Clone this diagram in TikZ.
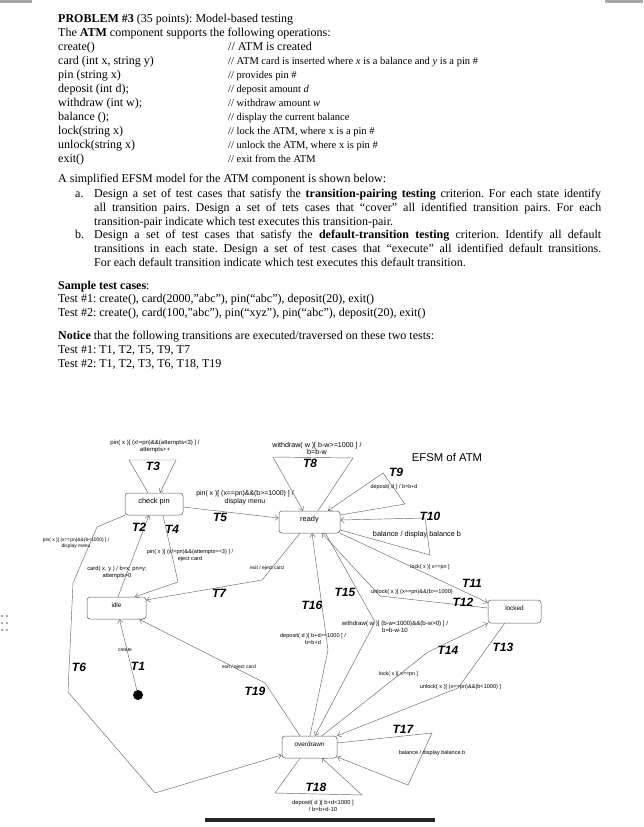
\documentclass[tikz,border=0pt]{standalone}
\usepackage{fontspec}
\setmainfont{Liberation Serif}
\newfontfamily\cmtfont{Liberation Serif}
\newfontfamily\diagfont{Liberation Sans}
\usetikzlibrary{arrows.meta}
\frenchspacing

\newcommand{\jline}[1]{\makebox[507pt][s]{#1}}

\begin{document}
\begin{tikzpicture}[x=1pt,y=-1pt,
	txt/.style={anchor=base west,inner sep=0pt,font=\fontsize{12}{14}\selectfont},
	cmt/.style={anchor=base west,inner sep=0pt,font=\cmtfont\fontsize{10.5}{12}\selectfont},
	state/.style={draw=black!65,line width=0.5pt,rounded corners=3pt,minimum height=22pt,
		inner sep=0pt,text depth=6pt,font=\diagfont\fontsize{6.4}{7}\selectfont},
	bigstate/.style={state,font=\diagfont\fontsize{7.4}{8}\selectfont},
	lbl/.style={inner sep=0pt,align=center,font=\diagfont\fontsize{5.6}{7}\selectfont},
	biglbl/.style={lbl,font=\diagfont\fontsize{7.1}{7.5}\selectfont},
	hand/.style={inner sep=0pt,font=\diagfont\bfseries\itshape\fontsize{12}{12}\selectfont},
	tr/.style={draw=black!60,line width=0.45pt,-{Straight Barb[length=3.5pt,width=5.5pt]}}]
			\useasboundingbox (0,0) rectangle (643,827);
			\fill[black!35] (0,0) rectangle (32,3);
			\fill[black!35] (605,0) rectangle (643,3);
			\fill[black!45] (2,616) circle [radius=1.2pt];
			\fill[black!45] (7,616) circle [radius=1.2pt];
			\fill[black!45] (2,623) circle [radius=1.2pt];
			\fill[black!45] (7,623) circle [radius=1.2pt];
			\fill[black!45] (2,630) circle [radius=1.2pt];
			\fill[black!45] (7,630) circle [radius=1.2pt];
			\fill[black!85] (205,818) rectangle (435,822);
			\node[txt] (head) at (58,22) {\textbf{PROBLEM \#3} (35 points): Model-based testing};
			\node[txt] (intro) at (58,36) {The \textbf{ATM} component supports the following operations:};
			\node[txt] (op1) at (58,50) {create()};
			\node[txt] (op2) at (58,64) {card (int x, string y)};
			\node[txt] (op3) at (58,78) {pin (string x)};
			\node[txt] (op4) at (58,92) {deposit (int d);};
			\node[txt] (op5) at (58,106) {withdraw (int w);};
			\node[txt] (op6) at (58,120) {balance ();};
			\node[txt] (op7) at (58,134) {lock(string x)};
			\node[txt] (op8) at (58,148) {unlock(string x)};
			\node[txt] (op9) at (58,162) {exit()};
			\node[txt] (c1) at (228,50) {// ATM is created};
			\node[cmt] (c2) at (228,64) {// ATM card is inserted where \textit{x} is a balance and \textit{y} is a pin \#};
			\node[cmt] (c3) at (228,78) {// provides pin \#};
			\node[cmt] (c4) at (228,92) {// deposit amount \textit{d}};
			\node[cmt] (c5) at (228,106) {// withdraw amount \textit{w}};
			\node[cmt] (c6) at (228,120) {// display the current balance};
			\node[cmt] (c7) at (228,134) {// lock the ATM, where x is a pin \#};
			\node[cmt] (c8) at (228,148) {// unlock the ATM, where x is pin \#};
			\node[cmt] (c9) at (228,162) {// exit from the ATM};
			\node[txt] (model) at (58,182) {A simplified EFSM model for the ATM component is shown below:};
			\node[txt] (ia) at (75,197) {a.};
			\node[txt] (ia1) at (94,197) {\jline{Design a set of test cases that satisfy the \textbf{transition-pairing testing} criterion. For each state identify}};
			\node[txt] (ia2) at (94,211) {\jline{all transition pairs. Design a set of tets cases that “cover” all identified transition pairs. For each}};
			\node[txt] (ia3) at (94,225) {transition-pair indicate which test executes this transition-pair.};
			\node[txt] (ib) at (75,238) {b.};
			\node[txt] (ib1) at (94,238) {\jline{Design a set of test cases that satisfy the \textbf{default-transition testing} criterion. Identify all default}};
			\node[txt] (ib2) at (94,252) {\jline{transitions in each state. Design a set of test cases that “execute” all identified default transitions.}};
			\node[txt] (ib3) at (94,266) {For each default transition indicate which test executes this default transition.};
			\node[txt] (sample) at (58,289) {\textbf{Sample test cases}:};
			\node[txt] (test1) at (58,302) {Test \#1: create(), card(2000,”abc”), pin(“abc”), deposit(20), exit()};
			\node[txt] (test2) at (58,316) {Test \#2: create(), card(100,”abc”), pin(“xyz”), pin(“abc”), deposit(20), exit()};
			\node[txt] (notice) at (58,339) {\textbf{Notice} that the following transitions are executed/traversed on these two tests:};
			\node[txt] (run1) at (58,353) {Test \#1: T1, T2, T5, T9, T7};
			\node[txt] (run2) at (58,367) {Test \#2: T1, T2, T3, T6, T18, T19};
			\node[font=\diagfont\fontsize{11.3}{12}\selectfont,inner sep=0pt] (title) at (447,457) {EFSM of ATM};
			\node[bigstate,minimum width=58pt] (checkpin) at (154,504) {check pin};
			\node[bigstate,minimum width=61pt] (ready) at (309.5,522) {ready};
			\node[state,minimum width=59pt] (idle) at (116.5,608) {idle};
			\node[state,minimum width=53pt,minimum height=23pt] (locked) at (514.5,611.5) {locked};
			\node[state,minimum width=55pt] (overdrawn) at (309.5,747) {overdrawn};
			\node[circle,fill=black,inner sep=0pt,minimum size=10pt] (init) at (138,695) {};
			\coordinate (t3a) at (129,460);
			\coordinate (t3b) at (176,460);
			\coordinate (t8a) at (353,458);
			\coordinate (t8b) at (273,457);
			\coordinate (t9a) at (405,504);
			\coordinate (t9b) at (383,473);
			\coordinate (t10a) at (430,555);
			\coordinate (t10b) at (425,518);
			\coordinate (t12a) at (380,596);
			\coordinate (t15a) at (375,622);
			\coordinate (t16a) at (328,650);
			\coordinate (t7a) at (262,580);
			\coordinate (t14a) at (428,652);
			\coordinate (t13a) at (458,688);
			\coordinate (t19a) at (265,683);
			\coordinate (t17a) at (432,733);
			\coordinate (t17b) at (408,785);
			\coordinate (t18a) at (275,793);
			\coordinate (t18b) at (362,795);
			\coordinate (t6a) at (97,527);
			\coordinate (t6b) at (73,583);
			\coordinate (t6c) at (68,692);
			\coordinate (t6d) at (155,793);
			\coordinate (t4a) at (178,582);
			\draw[tr] (init) -- ([xshift=3pt]idle.south);
			\draw[tr] ([xshift=1.5pt]idle.north) -- ([xshift=-5pt]checkpin.south);
			\draw[tr] ([xshift=-6pt]checkpin.north) -- (t3a) -- (t3b) -- ([xshift=6pt]checkpin.north);
			\draw[tr] ([xshift=9pt]checkpin.south) -- (t4a) -- ([xshift=18.5pt]idle.north);
			\draw[tr] ([yshift=-3pt]checkpin.east) -- ([yshift=4pt]ready.west);
			\draw[tr] (checkpin.south west) -- (t6a) -- (t6b) -- (t6c) -- (t6d) -- ([yshift=-8pt]overdrawn.west);
			\draw[tr] ([xshift=-9.5pt]ready.south) -- (t7a) -- ([yshift=8pt]idle.east);
			\draw[tr] ([xshift=8.5pt]ready.north) -- (t8a) -- (t8b) -- ([xshift=-6.5pt]ready.north);
			\draw[tr] ([yshift=7pt]ready.east) -- (t9a) -- (t9b) -- ([xshift=18.5pt]ready.north);
			\draw[tr] ([yshift=-8pt]ready.east) -- (t10a) -- (t10b) -- ([yshift=2pt]ready.east);
			\draw[tr] (ready.south east) -- ([yshift=-3pt]locked.north west);
			\draw[tr] ([yshift=3.5pt]locked.west) -- (t12a) -- ([xshift=12.5pt]ready.south);
			\draw[tr] ([xshift=17pt]locked.south west) -- (t13a) -- (overdrawn.north east);
			\draw[tr] ([xshift=12.5pt]overdrawn.north) -- (t14a) -- (locked.south west);
			\draw[tr] ([xshift=16pt]ready.south) -- (t15a) -- ([xshift=5.5pt]overdrawn.north);
			\draw[tr] ([xshift=0.5pt]overdrawn.north) -- (t16a) -- ([xshift=2.5pt]ready.south);
			\draw[tr] ([yshift=4pt]overdrawn.east) -- (t17a) -- (t17b) -- ([yshift=-10pt]overdrawn.east);
			\draw[tr] ([xshift=-9.5pt]overdrawn.south) -- (t18a) -- (t18b) -- ([xshift=12.5pt]overdrawn.south);
			\draw[tr] ([xshift=-9.5pt]overdrawn.north) -- (t19a) -- ([xshift=-7pt]idle.south east);
			\node[lbl,font=\diagfont\fontsize{5}{7}\selectfont] (l1) at (125,650) {create};
			\node[lbl,font=\diagfont\fontsize{5.8}{7}\selectfont] (l2) at (117,572.5) {card( x, y ) / b=x; pn=y;\\attempts=0};
			\node[lbl,font=\diagfont\fontsize{6}{7}\selectfont] (l3) at (155,446.5) {pin( x )[ (x!=pn)\&\&(attempts<3) ] /\\attempts++};
			\node[lbl] (l4) at (190,555.5) {pin( x )[ (x!=pn)\&\&(attempts==3) ] /\\eject card};
			\node[biglbl,font=\diagfont\fontsize{6.9}{7.5}\selectfont] (l5) at (245,497.5) {pin( x )[ (x==pn)\&\&(b>=1000) ] /\\display menu};
			\node[lbl,font=\diagfont\fontsize{4.9}{6}\selectfont] (l6) at (76,543) {pin( x )[ (x==pn)\&\&(b<1000) ] /\\display menu};
			\node[lbl,font=\diagfont\fontsize{5}{7}\selectfont] (l7) at (267,568.5) {exit / eject card};
			\node[biglbl] (l8) at (317,448.5) {withdraw( w )[ b-w>=1000 ] /\\b=b-w};
			\node[lbl,font=\diagfont\fontsize{5.4}{6}\selectfont] (l9) at (394,487) {deposit( d ) / b=b+d};
			\node[biglbl,font=\diagfont\fontsize{7.3}{7.5}\selectfont] (l10) at (417,535) {balance / display balance b};
			\node[lbl,font=\diagfont\fontsize{5.3}{7}\selectfont] (l11) at (430,567.5) {lock( x )[ x==pn ]};
			\node[lbl] (l12) at (412,592) {unlock( x )[ (x==pn)\&\&(b>=1000)};
			\node[lbl] (l13) at (460.5,687) {unlock( x )[ (x==pn)\&\&(b<1000) ]};
			\node[lbl,font=\diagfont\fontsize{5.3}{7}\selectfont] (l14) at (398.5,674) {lock( x )[ x==pn ]};
			\node[lbl,font=\diagfont\fontsize{6.1}{7}\selectfont] (l15) at (395,626.5) {withdraw( w )[ (b-w<1000)\&\&(b-w>0) ] /\\b=b-w-10};
			\node[lbl] (l16) at (313,638.5) {deposit( d )[ b+d>=1000 ] /\\b=b+d};
			\node[lbl,font=\diagfont\fontsize{5.5}{7}\selectfont] (l17) at (432,753) {balance / display balance b};
			\node[lbl,font=\diagfont\fontsize{5.8}{7}\selectfont] (l18) at (323,805.5) {deposit( d )[ b+d<1000 ]\\/ b=b+d-10};
			\node[lbl,font=\diagfont\fontsize{5}{7}\selectfont] (l19) at (239,667) {exit / eject card};
			\node[hand] (n1) at (138,666) {T1};
			\node[hand] (n2) at (139,527) {T2};
			\node[hand] (n3) at (153,466) {T3};
			\node[hand] (n4) at (172,529) {T4};
			\node[hand] (n5) at (220,517) {T5};
			\node[hand] (n6) at (79,667) {T6};
			\node[hand] (n7) at (219,593) {T7};
			\node[hand] (n8) at (310,463) {T8};
			\node[hand] (n9) at (396,472) {T9};
			\node[hand] (n10) at (430,516) {T10};
			\node[hand] (n11) at (472,583) {T11};
			\node[hand] (n12) at (463,602) {T12};
			\node[hand] (n13) at (503,647) {T13};
			\node[hand] (n14) at (448,650) {T14};
			\node[hand] (n15) at (345,592) {T15};
			\node[hand] (n16) at (312,605) {T16};
			\node[hand] (n17) at (403,729) {T17};
			\node[hand] (n18) at (316,787) {T18};
			\node[hand] (n19) at (255,691) {T19};
\end{tikzpicture}
\end{document}
